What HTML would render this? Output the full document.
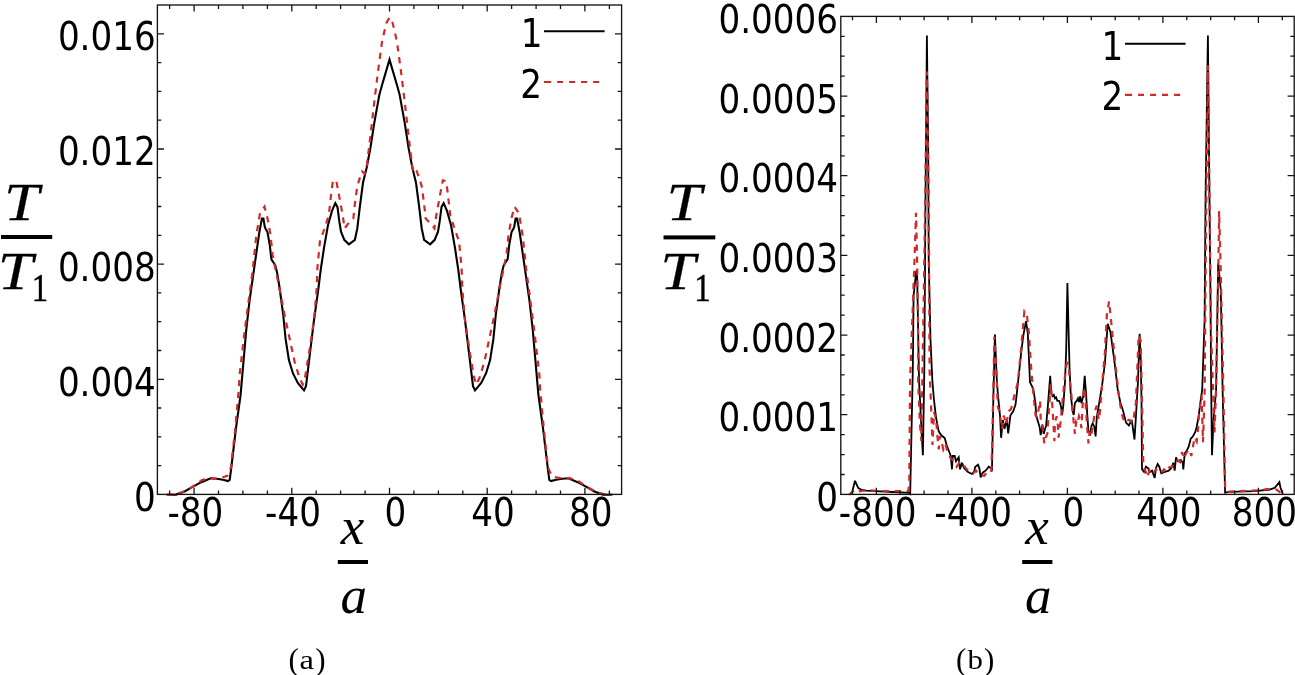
<!DOCTYPE html>
<html><head><meta charset="utf-8"><title>Transmission plots</title>
<style>
html,body{margin:0;padding:0;background:#fff;}
body{width:1295px;height:675px;overflow:hidden;}
svg{display:block;}
.tk{font-family:"DejaVu Sans Condensed","DejaVu Sans",sans-serif;font-stretch:condensed;font-size:38px;fill:#000;}
.mi{font-family:"Liberation Serif","DejaVu Serif",serif;font-style:italic;fill:#000;}
.rm{font-family:"Liberation Serif","DejaVu Serif",serif;fill:#000;}
.cap{font-family:"Liberation Serif","DejaVu Serif",serif;font-size:28px;fill:#000;}
.pr{font-size:31px;}
.T{font-size:53px;stroke:#000;stroke-width:0.25px;}
.X{font-size:53px;}
.s1{font-size:39px;stroke:#000;stroke-width:0.5px;}
</style></head>
<body>
<svg width="1295" height="675" viewBox="0 0 1295 675">
<rect width="1295" height="675" fill="#fff"/>
<!-- plot (a) -->
<g>
<polyline points="166.8,494.7 176,494.6 184.6,491.5 192.1,487.2 201.3,482.2 210.6,478.2 216.8,478.8 222.9,479.8 227.9,481 229.7,479.8 230.7,472.4 232.2,460 236,428.2 240.6,394.8 246.2,330.4 249.6,300.1 254.8,263.8 259.3,232.6 261.9,218.5 263.4,218.5 264.9,227.4 267.4,231.9 269.7,244.5 271.4,259.3 275.3,265.3 277.1,272.7 279.3,286 283.2,314.5 285.6,338.9 288.9,360.1 292.9,373.2 297.8,382.9 304,390.3 306,386.2 310.1,352 314.1,319.3 318.2,290 320.7,269.9 324,247.9 328,225.1 332.1,210.5 335.3,203.1 337.5,207.2 339.4,221.9 341,231.6 344.3,239.8 348.9,244.3 354.9,239.8 357.3,228.4 359.8,207.2 363,182.8 366.6,168 370.4,148 374.3,122.9 379.3,95 381.9,85.5 389.5,59.6 397.1,85.5 399.7,95 404.7,122.9 408.6,148 412.4,168 416,182.8 419.2,207.2 421.7,228.4 424.1,239.8 430.1,244.3 434.7,239.8 438,231.6 439.6,221.9 441.5,207.2 443.7,203.1 446.9,210.5 451,225.1 455,247.9 458.3,269.9 460.8,290 464.9,319.3 468.9,352 473,386.2 475,390.3 481.2,382.9 486.1,373.2 490.1,360.1 493.4,338.9 495.8,314.5 499.7,286 501.9,272.7 503.7,265.3 507.6,259.3 509.3,244.5 511.6,231.9 514.1,227.4 515.6,218.5 517.1,218.5 519.7,232.6 524.2,263.8 529.4,300.1 532.8,330.4 538.4,394.8 543,428.2 546.8,460 548.3,472.4 549.3,479.8 551.1,481 556.1,479.8 562.2,478.8 568.4,478.2 577.7,482.2 586.9,487.2 594.4,491.5 603,494.6 612.2,494.7" fill="none" stroke="#000" stroke-width="2.1" stroke-linejoin="miter" stroke-miterlimit="10"/>
<polyline points="166.7,494.9 172.9,494.6 182.2,492.4 192.7,486.6 202,480.1 210.6,477.9 214.3,478.8 222.9,477.3 227.3,475.8 231,467.4 235.1,430 238.8,389.3 239.7,374 244.3,334.1 248.9,298.6 252.6,271.2 256.3,235.6 260,213.3 264.5,206.7 267.4,217.8 270.4,234.1 272.6,254.9 275.6,269.7 279.3,287.5 284.8,316.1 289.7,338.9 294.6,361.7 299.5,378 302.7,384.6 305.2,376.4 309.2,352 314.1,319.3 316.6,290 317.4,268.3 319.9,241.4 324,230 328.8,215.3 331.3,192.6 332.9,181.2 336.2,180.3 339.4,197.4 342.7,215.3 344.6,228.4 347.6,224.3 353.3,218.6 354.9,204 357.3,186 359.8,177.9 362.2,171.4 364.6,173.8 366.6,167.3 370.4,136.4 374.3,101.7 378.1,70.9 382,41.9 383.6,34.7 386.3,23.2 389.5,17.5 392.7,23.2 395.4,34.7 397,41.9 400.9,70.9 404.7,101.7 408.6,136.4 412.4,167.3 414.4,173.8 416.8,171.4 419.2,177.9 421.7,186 424.1,204 425.7,218.6 431.4,224.3 434.4,228.4 436.3,215.3 439.6,197.4 442.8,180.3 446.1,181.2 447.7,192.6 450.2,215.3 455,230 459.1,241.4 461.6,268.3 462.4,290 464.9,319.3 469.8,352 473.8,376.4 476.3,384.6 479.5,378 484.4,361.7 489.3,338.9 494.2,316.1 499.7,287.5 503.4,269.7 506.4,254.9 508.6,234.1 511.6,217.8 514.5,206.7 519,213.3 522.7,235.6 526.4,271.2 530.1,298.6 534.7,334.1 539.3,374 540.2,389.3 543.9,430 548,467.4 551.7,475.8 556.1,477.3 564.7,478.8 568.4,477.9 577,480.1 586.3,486.6 596.8,492.4 606.1,494.6 612.3,494.9" fill="none" stroke="#cf2a2a" stroke-width="2.2" stroke-dasharray="6.2,5.8"/>
<rect x="157.4" y="5.0" width="464.2" height="489.4" stroke="#141414" stroke-width="1.35" fill="none"/>
<path d="M169.6 494.4v-3.9 M169.6 5v3.9 M194.1 494.4v-6.6 M194.1 5v6.6 M218.5 494.4v-3.9 M218.5 5v3.9 M242.9 494.4v-3.9 M242.9 5v3.9 M267.4 494.4v-3.9 M267.4 5v3.9 M291.8 494.4v-6.6 M291.8 5v6.6 M316.2 494.4v-3.9 M316.2 5v3.9 M340.6 494.4v-3.9 M340.6 5v3.9 M365.1 494.4v-3.9 M365.1 5v3.9 M389.5 494.4v-6.6 M389.5 5v6.6 M413.9 494.4v-3.9 M413.9 5v3.9 M438.4 494.4v-3.9 M438.4 5v3.9 M462.8 494.4v-3.9 M462.8 5v3.9 M487.2 494.4v-6.6 M487.2 5v6.6 M511.6 494.4v-3.9 M511.6 5v3.9 M536.1 494.4v-3.9 M536.1 5v3.9 M560.5 494.4v-3.9 M560.5 5v3.9 M584.9 494.4v-6.6 M584.9 5v6.6 M609.4 494.4v-3.9 M609.4 5v3.9 M157.4 465.6h3.9 M621.6 465.6h-3.9 M157.4 436.8h3.9 M621.6 436.8h-3.9 M157.4 408h3.9 M621.6 408h-3.9 M157.4 379.3h6.6 M621.6 379.3h-6.6 M157.4 350.5h3.9 M621.6 350.5h-3.9 M157.4 321.7h3.9 M621.6 321.7h-3.9 M157.4 292.9h3.9 M621.6 292.9h-3.9 M157.4 264.1h6.6 M621.6 264.1h-6.6 M157.4 235.3h3.9 M621.6 235.3h-3.9 M157.4 206.5h3.9 M621.6 206.5h-3.9 M157.4 177.7h3.9 M621.6 177.7h-3.9 M157.4 149h6.6 M621.6 149h-6.6 M157.4 120.2h3.9 M621.6 120.2h-3.9 M157.4 91.4h3.9 M621.6 91.4h-3.9 M157.4 62.6h3.9 M621.6 62.6h-3.9 M157.4 33.8h6.6 M621.6 33.8h-6.6" stroke="#141414" stroke-width="1.3" fill="none"/>
<g class="tk">
<text transform="translate(155.7,50.2) scale(1,1.05)" text-anchor="end">0.016</text>
<text transform="translate(155.7,165.4) scale(1,1.05)" text-anchor="end">0.012</text>
<text transform="translate(155.7,280.5) scale(1,1.05)" text-anchor="end">0.008</text>
<text transform="translate(155.7,395.7) scale(1,1.05)" text-anchor="end">0.004</text>
<text transform="translate(155.7,510.8) scale(1,1.05)" text-anchor="end">0</text>
<text transform="translate(195.3,526.2) scale(1,1.05)" text-anchor="middle">-80</text>
<text transform="translate(293,526.2) scale(1,1.05)" text-anchor="middle">-40</text>
<text transform="translate(395.4,526.2) scale(1,1.05)" text-anchor="middle">0</text>
<text transform="translate(493.1,526.2) scale(1,1.05)" text-anchor="middle">40</text>
<text transform="translate(590.8,526.2) scale(1,1.05)" text-anchor="middle">80</text>
<text transform="translate(542.6,46.6) scale(1,1.05)" text-anchor="end">1</text>
<text transform="translate(542,97.6) scale(1,1.05)" text-anchor="end">2</text>
</g>
<path d="M544 31.2H604.6" stroke="#000" stroke-width="2"/>
<path d="M544 82H551.1M557.1 82H563M569.1 82H575.1M581 82H587.1M593.1 82H599.2" stroke="#cf2a2a" stroke-width="2.2"/>
<text class="mi T" transform="translate(4.0,220.3) scale(1.19,1)">T</text>
<rect x="1" y="235" width="51.2" height="4" fill="#000"/>
<text class="mi T" transform="translate(-2.2,288.6) scale(1.19,1)">T</text>
<text class="rm s1" transform="translate(31.8,301.3) scale(0.84,1.01)">1</text>
<text class="mi X" x="340.8" y="544.2">x</text>
<rect x="337.8" y="560" width="30.2" height="4" fill="#000"/>
<text class="mi X" x="340.6" y="613">a</text>
<text class="cap"><tspan class="pr" x="288.6" y="669.5">(</tspan><tspan class="pr" x="315.2" y="669.5">)</tspan></text>
<text class="cap" transform="translate(299.6,668.7) scale(1.16,1)">a</text>
</g>
<!-- plot (b) -->
<g>
<polyline points="849.3,494.6 852.2,492 855,480.8 858.3,488 862,490 866,490.6 875.6,491.1 893.3,492 909.3,492.9 910.2,493.8 912.8,370 913.6,295.5 916.3,270.7 917.2,277.8 919,379.8 921.6,432.1 922.9,455.2 924.3,370 924.8,300 925.5,200 926.9,35.6 928.2,150 928.7,260 930.5,340 932.3,379.8 934,400 936,417.3 938.7,431.3 941.3,435.3 944.7,438 946.7,445.3 949.3,452 950.7,456 952,469.3 952.7,456 954.7,456 956,461.3 958.7,457.3 960,469.3 962,462.7 964,468 968,472 972,474 974,472 975.3,466.7 978,464.7 979.3,468 980.7,477.3 982.7,472.7 984.7,471.3 986.7,469.3 988.7,466.7 990.7,468 992,469.3 993.3,400 994.9,334.4 996.7,377.8 997.8,393.3 1000,415.6 1001.1,437.8 1002.9,420 1004.4,428.9 1006.7,420 1008.2,433.3 1010.4,415.6 1013.3,411.1 1015.6,404.4 1017.8,384.4 1021.1,353.3 1023.3,335.6 1026,321.1 1027.8,333.3 1030,382.2 1033.3,388.9 1035.6,404.4 1036,415 1039.6,426.9 1040.7,435.2 1042.5,424.5 1043.7,434 1044.9,429.3 1046.1,425.7 1047.9,405.6 1050.2,375.9 1051.4,393.7 1052.6,396.1 1053.8,394.9 1055,398.4 1056.1,397.3 1057.3,400.8 1059.1,400.8 1060.9,405.6 1062.1,415 1063.3,405.6 1065,381.9 1066.2,350 1067.4,283 1068.8,340 1069.6,370 1070.7,393.7 1072.5,410.3 1073.7,415 1074.9,403.2 1076.7,400.8 1077.9,398.4 1079,402 1080.2,396.1 1081.4,403.2 1083.2,396.1 1084.7,375.9 1086.1,393.7 1087.3,415 1088.5,431.6 1090.3,434 1091.5,425.7 1092.7,423.3 1094.4,426.9 1095.6,436.4 1096.8,417.4 1097.8,411.3 1102,385.9 1104.9,363.3 1107.7,323.9 1110.5,332.3 1114.7,363.3 1117.6,388.7 1120.4,402.8 1123.2,411.3 1126,422.6 1128.9,425.4 1131.7,419.8 1134.5,439.5 1135.9,416.9 1137.9,383.1 1139.6,333.7 1140.8,360.5 1141.5,400 1142,469.3 1144,472 1146,466.7 1148,468 1150,472 1152,470.7 1154.7,478 1156,468 1157.7,464 1159.3,466.7 1161.3,473.3 1164.7,472 1168.7,470.7 1171.3,468 1173.3,462.7 1174.7,470.7 1176,457.3 1178,461.3 1180.7,460 1182.7,462.7 1183.3,469.3 1184.7,453.3 1186.7,450.7 1188.7,446.7 1190.7,438.7 1192.7,436.7 1195.3,432 1196.7,426.7 1198.7,416 1200.7,400 1202.2,390 1204.6,319.6 1205.5,200 1207.9,35.6 1209.3,180 1210.5,299.8 1211.2,390 1212,455.2 1213.6,419.3 1216.1,390 1218.2,263.4 1220.8,290 1222.6,390 1224.2,455.2 1225.1,492.7 1229.1,491.9 1255.2,491.1 1269.9,489.5 1274.8,487.8 1279.4,482.1 1280.5,487.8 1282.9,493.5" fill="none" stroke="#000" stroke-width="1.8" stroke-linejoin="miter" stroke-miterlimit="3"/>
<polyline points="849.3,494.7 855,489.5 858.5,491.5 866,490.2 884.4,491.1 908.4,491.1 909.3,479.6 910.1,379.8 914.5,260 916,212.8 917.2,263.6 918.1,331 918.1,379.8 919.9,423.3 921.3,441 922.5,370 924.5,250 926.9,71.5 928.7,200 929.6,370 931.4,414.4 932.5,445 934,412 936.2,420 937.3,434.7 938.7,449.3 940,436 941.5,441 943.3,449.3 945.3,444 948,453.3 950,457.3 952.7,460 954.7,462.7 956.7,466.7 959.3,462.7 962,466.7 964.7,466.7 966.7,469.3 970.7,470.7 973.3,473.3 976,470.7 978.7,474.7 981.3,474.7 984,476 986.7,472.7 989.3,473.3 991.3,472 992.2,442.2 994.4,336.7 996.2,366.7 997.8,406.7 999.3,411.1 1002.2,428.9 1003.8,415.6 1006,424.4 1008.9,411.1 1011.1,408.9 1014.4,395.6 1017.8,382.2 1021.1,348.9 1024.4,311.1 1026.7,313.3 1028.9,333.3 1031.1,366.7 1033.3,393.3 1035.6,415.6 1037.2,417.4 1040.1,400.8 1040.7,419.8 1042.5,426.9 1044.3,443.5 1046.1,436.4 1047.3,434 1048.4,417.4 1049.6,400.8 1050.8,384.2 1052,400.8 1053.2,419.8 1054.4,441.1 1055,422.1 1056.7,416.2 1057.9,425.7 1058.5,437.6 1059.7,429.3 1060.9,419.8 1062.1,405.6 1064.4,381.9 1065.6,370 1066.6,364 1067.6,363 1068.6,366 1069.6,377.1 1071.3,393.7 1072.5,409.1 1073.7,422.1 1074.9,434 1076.1,422.1 1077.3,424.5 1079,416.2 1080.2,419.8 1081.4,428.1 1082.6,405.6 1083.8,387.8 1085,393.7 1086.1,411.5 1087.3,429.3 1088.5,443.5 1089.7,431.6 1090.9,436.4 1092.7,426.9 1094.4,415 1095.6,409.1 1096.8,405.6 1098.5,418.2 1099.2,419.8 1102,385.9 1104.9,352.1 1106.8,315.4 1109.1,301.3 1111.4,323.9 1114.7,357.7 1119,397.2 1121.8,414.1 1124.6,422.6 1128.9,419.8 1133.1,422.6 1135.9,402.8 1138.7,335.1 1140.7,340.8 1143,448 1143.3,465.3 1145.3,470.7 1147.3,477.3 1149.3,470.7 1150.7,474.7 1153.3,472.7 1156,469.3 1158,472 1160.7,473.3 1164,469.3 1166.7,472 1169.3,467.3 1172,466.7 1174.7,462.7 1177.3,460 1180,462 1182,452 1184,458.7 1186,453.3 1189.3,449.3 1191.3,456 1192.7,448 1194.7,437.3 1196.7,441.3 1198,429.3 1199.3,410.7 1200.7,402.7 1201.6,395 1203,442.2 1204.7,390 1205.8,250 1207.9,65.3 1209.5,200 1211,330 1214.5,432.4 1216.1,390 1218.5,260 1219.1,211.1 1220.5,260 1222,330 1223.4,390 1225.1,487.8 1226.7,491.9 1238.9,491.1 1258.5,490.3 1271.5,488.6 1276.4,489.5 1282.9,494.4" fill="none" stroke="#cf2a2a" stroke-width="2.2" stroke-dasharray="6.2,5.8"/>
<rect x="840.8" y="16.4" width="453.4" height="478" stroke="#141414" stroke-width="1.35" fill="none"/>
<path d="M852.5 494.4v-3.9 M852.5 16.4v3.9 M876.4 494.4v-6.6 M876.4 16.4v6.6 M900.2 494.4v-3.9 M900.2 16.4v3.9 M924.1 494.4v-3.9 M924.1 16.4v3.9 M948 494.4v-3.9 M948 16.4v3.9 M971.9 494.4v-6.6 M971.9 16.4v6.6 M995.8 494.4v-3.9 M995.8 16.4v3.9 M1019.6 494.4v-3.9 M1019.6 16.4v3.9 M1043.5 494.4v-3.9 M1043.5 16.4v3.9 M1067.4 494.4v-6.6 M1067.4 16.4v6.6 M1091.3 494.4v-3.9 M1091.3 16.4v3.9 M1115.2 494.4v-3.9 M1115.2 16.4v3.9 M1139 494.4v-3.9 M1139 16.4v3.9 M1162.9 494.4v-6.6 M1162.9 16.4v6.6 M1186.8 494.4v-3.9 M1186.8 16.4v3.9 M1210.7 494.4v-3.9 M1210.7 16.4v3.9 M1234.6 494.4v-3.9 M1234.6 16.4v3.9 M1258.4 494.4v-6.6 M1258.4 16.4v6.6 M1282.3 494.4v-3.9 M1282.3 16.4v3.9 M840.8 474.5h3.9 M1294.2 474.5h-3.9 M840.8 454.6h3.9 M1294.2 454.6h-3.9 M840.8 434.6h3.9 M1294.2 434.6h-3.9 M840.8 414.7h6.6 M1294.2 414.7h-6.6 M840.8 394.8h3.9 M1294.2 394.8h-3.9 M840.8 374.9h3.9 M1294.2 374.9h-3.9 M840.8 355h3.9 M1294.2 355h-3.9 M840.8 335.1h6.6 M1294.2 335.1h-6.6 M840.8 315.1h3.9 M1294.2 315.1h-3.9 M840.8 295.2h3.9 M1294.2 295.2h-3.9 M840.8 275.3h3.9 M1294.2 275.3h-3.9 M840.8 255.4h6.6 M1294.2 255.4h-6.6 M840.8 235.5h3.9 M1294.2 235.5h-3.9 M840.8 215.6h3.9 M1294.2 215.6h-3.9 M840.8 195.6h3.9 M1294.2 195.6h-3.9 M840.8 175.7h6.6 M1294.2 175.7h-6.6 M840.8 155.8h3.9 M1294.2 155.8h-3.9 M840.8 135.9h3.9 M1294.2 135.9h-3.9 M840.8 116h3.9 M1294.2 116h-3.9 M840.8 96.1h6.6 M1294.2 96.1h-6.6 M840.8 76.1h3.9 M1294.2 76.1h-3.9 M840.8 56.2h3.9 M1294.2 56.2h-3.9 M840.8 36.3h3.9 M1294.2 36.3h-3.9" stroke="#141414" stroke-width="1.3" fill="none"/>
<g class="tk">
<text transform="translate(838,32.8) scale(1,1.05)" text-anchor="end">0.0006</text>
<text transform="translate(838,112.5) scale(1,1.05)" text-anchor="end">0.0005</text>
<text transform="translate(838,192.1) scale(1,1.05)" text-anchor="end">0.0004</text>
<text transform="translate(838,271.8) scale(1,1.05)" text-anchor="end">0.0003</text>
<text transform="translate(838,351.5) scale(1,1.05)" text-anchor="end">0.0002</text>
<text transform="translate(838,431.1) scale(1,1.05)" text-anchor="end">0.0001</text>
<text transform="translate(838,510.8) scale(1,1.05)" text-anchor="end">0</text>
<text transform="translate(877.6,526.2) scale(1,1.05)" text-anchor="middle">-800</text>
<text transform="translate(973.1,526.2) scale(1,1.05)" text-anchor="middle">-400</text>
<text transform="translate(1073.3,526.2) scale(1,1.05)" text-anchor="middle">0</text>
<text transform="translate(1168.8,526.2) scale(1,1.05)" text-anchor="middle">400</text>
<text transform="translate(1264.3,526.2) scale(1,1.05)" text-anchor="middle">800</text>
<text transform="translate(1123.3,59.6) scale(1,1.05)" text-anchor="end">1</text>
<text transform="translate(1123.3,110.4) scale(1,1.05)" text-anchor="end">2</text>
</g>
<path d="M1125 43.7H1185.6" stroke="#000" stroke-width="2"/>
<path d="M1125 94.9H1132.1M1138.1 94.9H1144M1150.1 94.9H1156.1M1162 94.9H1168.1M1174.1 94.9H1180.2" stroke="#cf2a2a" stroke-width="2.2"/>
<text class="mi T" transform="translate(666.5,220.3) scale(1.19,1)">T</text>
<rect x="663.5" y="235.4" width="51.8" height="4" fill="#000"/>
<text class="mi T" transform="translate(660.3,288.6) scale(1.19,1)">T</text>
<text class="rm s1" transform="translate(694.3,301.3) scale(0.84,1.01)">1</text>
<text class="mi X" x="1025.2" y="544.2">x</text>
<rect x="1022.2" y="560" width="30.2" height="4" fill="#000"/>
<text class="mi X" x="1025" y="613">a</text>
<text class="cap"><tspan class="pr" x="956" y="669.5">(</tspan><tspan class="pr" x="984" y="669.5">)</tspan></text>
<text class="cap" transform="translate(967.4,668.7) scale(1.1,1)">b</text>
</g>
</svg>
</body></html>
